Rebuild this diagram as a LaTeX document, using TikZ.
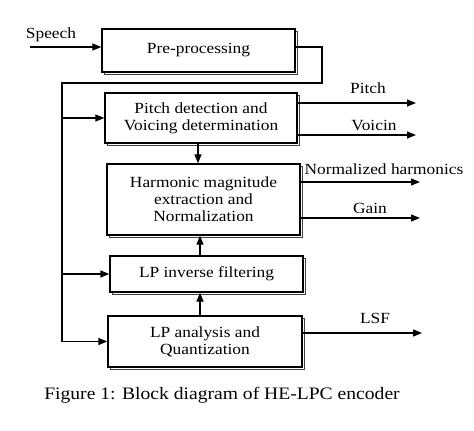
\documentclass[tikz,border=0pt]{standalone}
\usepackage{fontspec}
\setmainfont{Liberation Serif}[FakeStretch=1.12]
\usetikzlibrary{arrows.meta,shadows}
\begin{document}
\begin{tikzpicture}[x=1pt,y=1pt,
  blk/.style={draw=black, line width=1.3pt, fill=white, align=center, inner sep=0pt,
    font=\fontsize{15.5}{17}\selectfont,
    copy shadow={shadow xshift=2pt, shadow yshift=-2pt, draw=black!75, fill=white, line width=1pt}},
  lbl/.style={font=\fontsize{15.5}{17}\selectfont, inner sep=0pt},
  wire/.style={line width=1.3pt},
  arr/.style={line width=1.3pt, -{Triangle[length=9pt,width=7pt]}}]
\useasboundingbox (0,0) rectangle (474,-431);
% blocks
\node[blk, minimum width=193pt, minimum height=43pt] (pre) at (198.5,-50.5) {Pre-processing};
\node[blk, minimum width=192pt, minimum height=50pt] (pitch) at (201,-118) {Pitch detection and\\Voicing determination};
\node[blk, minimum width=193pt, minimum height=71pt] (harm) at (203.5,-199.5) {Harmonic magnitude\\extraction and\\Normalization};
\node[blk, minimum width=193pt, minimum height=36pt] (lpinv) at (206.5,-274) {LP inverse filtering};
\node[blk, minimum width=194pt, minimum height=51pt] (lpan) at (205,-341.5) {LP analysis and\\Quantization};
% labels
\node[lbl] (speech) at (51,-35) {Speech};
\node[lbl] (lpitch) at (368,-88) {Pitch};
\node[lbl] (lvoic) at (374,-125) {Voicin};
\node[lbl] (lnorm) at (384,-169) {Normalized harmonics};
\node[lbl] (lgain) at (370,-208) {Gain};
\node[lbl] (llsf) at (375,-318) {LSF};
\node[font=\fontsize{17.5}{20}\selectfont, inner sep=0pt] (cap) at (222,-395) {Figure 1: Block diagram of HE-LPC encoder};
% coordinates
\coordinate (speechin) at (30,-47);
\coordinate (loopR) at (322,-47);
\coordinate (loopTR) at (322,-83);
\coordinate (loopTL) at (62,-83);
\coordinate (busP) at (62,-118);
\coordinate (busI) at (62,-274);
\coordinate (busB) at (62,-341.5);
\coordinate (oPitch) at (416,-103);
\coordinate (oVoic) at (416,-135);
\coordinate (oNorm) at (420,-182);
\coordinate (oGain) at (420,-218);
\coordinate (oLSF) at (422,-333);
% connectors
\draw[arr] (speechin) -- (pre.west |- speechin);
\draw[wire] (pre.east |- loopR) -- (loopR) -- (loopTR) -- (loopTL) -- (busB);
\draw[arr] (busB) -- (lpan.west);
\draw[arr] (busP) -- (pitch.west);
\draw[arr] (busI) -- (lpinv.west);
\draw[arr] (pitch.south -| 198,0) -- (harm.north -| 198,0);
\draw[arr] (lpinv.north -| 200,0) -- (harm.south -| 200,0);
\draw[arr] (lpan.north -| 200,0) -- (lpinv.south -| 200,0);
\draw[arr] (pitch.east |- oPitch) -- (oPitch);
\draw[arr] (pitch.east |- oVoic) -- (oVoic);
\draw[arr] (harm.east |- oNorm) -- (oNorm);
\draw[arr] (harm.east |- oGain) -- (oGain);
\draw[arr] (lpan.east |- oLSF) -- (oLSF);
\end{tikzpicture}
\end{document}
